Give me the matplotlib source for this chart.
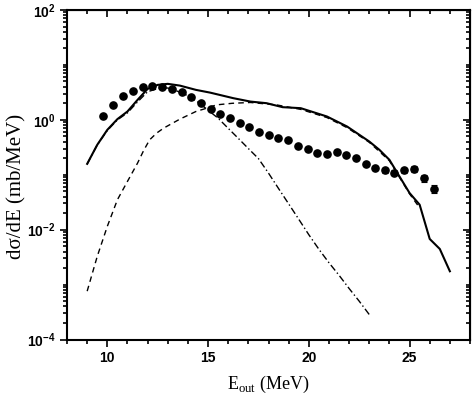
import matplotlib.pyplot as plt
from matplotlib.ticker import LogLocator, NullFormatter, FixedLocator, MultipleLocator
import numpy as np

# experimental points
e_exp = [9.80, 10.30, 10.79, 11.26, 11.75, 12.22, 12.71, 13.21, 13.69, 14.17,
         14.65, 15.13, 15.60, 16.09, 16.57, 17.04, 17.52, 18.00, 18.47, 18.98,
         19.46, 19.94, 20.42, 20.90, 21.38, 21.86, 22.34, 22.82, 23.29, 23.77,
         24.25, 24.73, 25.21, 25.71, 26.19]
xs_exp = [1.18, 1.87, 2.73, 3.41, 4.03, 4.20, 3.93, 3.62, 3.19, 2.59,
          2.01, 1.57, 1.29, 1.06, 0.88, 0.755, 0.61, 0.52, 0.465, 0.433,
          0.327, 0.293, 0.254, 0.241, 0.259, 0.228, 0.201, 0.158, 0.134, 0.122,
          0.109, 0.122, 0.127, 0.0857, 0.0556]
rel_err = [0.04, 0.04, 0.04, 0.04, 0.04, 0.04, 0.04, 0.04, 0.04, 0.04,
           0.04, 0.04, 0.04, 0.05, 0.05, 0.05, 0.05, 0.05, 0.05, 0.06,
           0.06, 0.06, 0.07, 0.07, 0.07, 0.07, 0.08, 0.08, 0.09, 0.10,
           0.10, 0.11, 0.12, 0.14, 0.18]

# total calculation (solid)
e_tot = [9.0, 9.5, 10.0, 10.5, 11.0, 11.5, 12.0, 12.5, 13.0, 13.6, 14.4, 15.1,
         16.25, 17.1, 17.9, 18.7, 19.6, 20.9, 21.9, 23.0, 23.5, 24.0, 24.5,
         25.0, 25.5, 26.0, 26.5, 27.0]
xs_tot = [0.158, 0.351, 0.658, 1.03, 1.42, 2.31, 3.66, 4.33, 4.52, 4.2, 3.51, 3.13,
          2.48, 2.15, 2.01, 1.70, 1.63, 1.15, 0.755, 0.403, 0.285, 0.187, 0.093,
          0.0465, 0.0285, 0.00678, 0.00446, 0.00175]

# component (dashed)
e_dash = [9.0, 9.5, 10.0, 10.5, 11.0, 11.5, 11.8, 12.1, 12.45, 12.8, 13.6, 14.4,
          15.1, 15.4, 16.2, 17.1, 18.4, 19.6, 20.9, 21.9, 23.0, 24.0, 24.5, 25.0,
          25.45]
xs_dash = [7.6e-4, 3.27e-3, 0.0115, 0.0351, 0.0758, 0.163, 0.275, 0.433, 0.575,
           0.708, 1.03, 1.42, 1.70, 1.87, 2.0, 2.07, 1.87, 1.55, 1.10, 0.72, 0.39,
           0.18, 0.09, 0.045, 0.0265]

# component (dash-dot)
e_dd = [9.0, 9.5, 10.0, 10.5, 11.0, 11.5, 12.0, 12.5, 13.0, 13.5, 14.0, 14.5,
        15.0, 15.5, 16.0, 16.5, 17.0, 17.5, 18.0, 18.5, 19.0, 19.5, 20.0, 20.5,
        21.0, 21.5, 22.0, 22.5, 23.0]
xs_dd = [0.157, 0.35, 0.64, 1.0, 1.34, 2.12, 3.25, 3.7, 3.8, 3.3, 2.75, 2.1,
         1.5, 1.07, 0.70, 0.46, 0.30, 0.197, 0.107, 0.056, 0.0295, 0.0155,
         0.0081, 0.0044, 0.0025, 0.00148, 8.5e-4, 5e-4, 2.85e-4]

fig = plt.figure(figsize=(4.74, 3.99), dpi=100)
ax = fig.add_axes([0.1414, 0.149, 0.8502, 0.826])

ax.plot(e_tot, xs_tot, '-', color='black', lw=1.5)
ax.plot(e_dash, xs_dash, '--', color='black', lw=1.0, dashes=(4, 3))
ax.plot(e_dd, xs_dd, '-.', color='black', lw=1.0, dashes=(5, 2, 1, 2))
err = np.array(xs_exp) * np.array(rel_err)
ax.errorbar(e_exp, xs_exp, yerr=err, fmt='o', color='black', ms=5.2,
            elinewidth=0.8, capsize=2.5, capthick=0.8)

ax.set_yscale('log')
ax.set_xlim(8, 28)
ax.set_ylim(1e-4, 1e2)

ax.xaxis.set_major_locator(FixedLocator([10, 15, 20, 25]))
ax.xaxis.set_minor_locator(MultipleLocator(1))
ax.yaxis.set_major_locator(FixedLocator([1e-4, 1e-2, 1e0, 1e2]))
ax.yaxis.set_minor_locator(LogLocator(base=10, subs=np.arange(1, 10), numticks=20))
ax.yaxis.set_minor_formatter(NullFormatter())

for s in ax.spines.values():
    s.set_linewidth(1.5)

ax.tick_params(which='both', direction='out', width=1.2, labelsize=10)
ax.tick_params(which='major', length=5)
ax.tick_params(which='minor', length=3)

for lab in ax.get_xticklabels() + ax.get_yticklabels():
    lab.set_fontweight('bold')
    lab.set_family('Liberation Sans')

# mirrored axes with inward ticks
axt = ax.secondary_xaxis('top')
axt.xaxis.set_major_locator(FixedLocator([10, 15, 20, 25]))
axt.xaxis.set_minor_locator(MultipleLocator(1))
axt.tick_params(which='both', direction='in', width=1.2, labeltop=False)
axt.tick_params(which='major', length=5)
axt.tick_params(which='minor', length=3)
axr = ax.secondary_yaxis('right')
axr.yaxis.set_major_locator(FixedLocator([1e-4, 1e-2, 1e0, 1e2]))
axr.yaxis.set_minor_locator(LogLocator(base=10, subs=np.arange(1, 10), numticks=20))
axr.tick_params(which='both', direction='in', width=1.2, labelright=False)
axr.tick_params(which='major', length=5)
axr.tick_params(which='minor', length=3)
axr.yaxis.set_minor_formatter(NullFormatter())

ax.set_xlabel(r'E$_{\mathregular{out}}$ (MeV)', family='Liberation Serif', fontsize=13)
ax.xaxis.set_label_coords(0.5, -0.105)
ax.set_ylabel(u'd\u03c3/dE (mb/MeV)', family='Liberation Serif', fontsize=15)
ax.yaxis.set_label_coords(-0.125, 0.465)
ax.yaxis.label.set_verticalalignment('center')

plt.savefig('out.png', dpi=100)
